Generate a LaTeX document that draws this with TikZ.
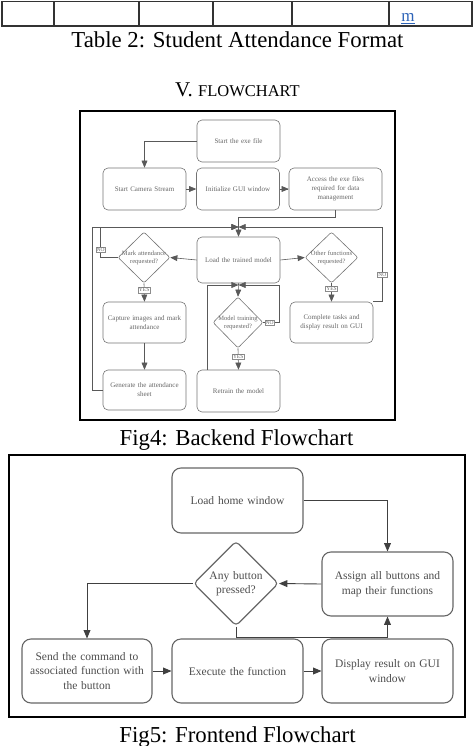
\documentclass[tikz,border=0pt]{standalone}
\usepackage{fontspec}
\setmainfont{Liberation Serif}
\usepackage{color}
\usepackage{tikz}
\usetikzlibrary{arrows}
\usetikzlibrary{shapes.geometric}

\begin{document}
\begin{tikzpicture}[x=1pt,y=-1pt,>=triangle 45,
    bbox/.style={draw=black!55, line width=0.6pt, rounded corners=5pt, minimum width=83pt, minimum height=42pt, text width=80pt, align=center, inner sep=1pt, text=black!60, font=\fontsize{7}{9}\selectfont},
    bdec/.style={diamond, draw=black!55, line width=0.6pt, rounded corners=2pt, aspect=1, inner sep=-7pt, minimum width=52pt, minimum height=51pt, text width=52pt, align=center, text=black!60, font=\fontsize{6.5}{8}\selectfont},
    blbl/.style={draw=black!45, fill=white, line width=0.4pt, inner sep=0.8pt, text=black!60, font=\fontsize{5.5}{6}\selectfont},
    bline/.style={draw=black!65, line width=0.6pt},
    fbox/.style={draw=black!60, line width=1.1pt, rounded corners=9pt, minimum width=131pt, minimum height=64pt, text width=122pt, align=center, inner sep=1pt, text=black!70, font=\fontsize{11.5}{14.5}\selectfont},
    fdec/.style={diamond, draw=black!60, line width=1.1pt, rounded corners=4pt, aspect=1, inner sep=0pt, minimum width=82pt, minimum height=80pt, text width=60pt, align=center, text=black!70, font=\fontsize{11.5}{14.5}\selectfont},
    fline/.style={draw=black!75, line width=0.9pt},
    capt/.style={anchor=base, font=\fontsize{22.8}{26}\selectfont}
  ]
    \definecolor{linkblue}{HTML}{2E64B8}
    \useasboundingbox (0,0) rectangle (474,746);
    % Tabellenrest oben
    \draw[line width=1.4pt, black!80] (1,1.5) -- (473,1.5) (1,26) -- (473,26);
    \foreach \x in {2,54,139,213,292,389,472}
    {
      \draw[line width=1.4pt, black!80] (\x,1.5) -- (\x,26);
    }
    \node[anchor=base, text=linkblue, font=\fontsize{17}{20}\selectfont] (lnk) at (408,22) {\underline{m}};
    \node[capt] (tabcap) at (237.5,48) {Table 2: Student Attendance Format};
    \node[anchor=base, font=\fontsize{21}{24}\selectfont] (sect) at (237.5,97) {V. {\fontsize{16.5}{18}\selectfont FLOWCHART}};

    % Backend
    \draw[line width=2pt] (80,111) rectangle (395,420);  %Rahmen
    \node[bbox] (start) at (238.5,141) {Start the exe file};
    \node[bbox] (cam) at (144.5,189) {Start Camera Stream};
    \node[bbox] (gui) at (238,189) {Initialize GUI window};
    \node[bbox, minimum width=93pt] (access) at (335.5,189) {Access the exe files\\ required for data\\ management};
    \node[bbox, minimum height=46pt] (load) at (238.5,260) {Load the trained model};
    \node[bdec] (mark) at (144,257.5) {Mark attendance\\ requested?};
    \node[bdec, minimum width=53pt] (other) at (331.5,257.5) {Other functions\\ requested?};
    \node[bdec, minimum width=50pt] (train) at (238,322.5) {Model training\\ requested?};
    \node[bbox, minimum height=41pt] (capture) at (144.5,322.5) {Capture images and mark\\ attendance};
    \node[bbox, minimum height=41pt] (complete) at (331.5,322.5) {Complete tasks and\\ display result on GUI};
    \node[bbox, minimum height=40pt] (generate) at (144.5,390) {Generate the attendance\\ sheet};
    \node[bbox] (retrain) at (238.5,391) {Retrain the model};
    \coordinate (jtop) at (238.5,227);  %Treffpunkt oben
    \coordinate (jmid) at (238.5,285);  %Treffpunkt unten

    \draw[bline,->] (start.west) -| (cam.north);
    \draw[bline,->] (cam.east) -- (gui.west);
    \draw[bline,->] (gui.east) -- (access.west);
    \draw[bline,->] (access.south) -- ++(0,7) -| (load.north);
    \draw[bline,->] (generate.west) -- ++(-10,0) |- (jtop);
    \draw[bline,->] (mark.west) -- ++(-17,0) |- (jtop) node[blbl, pos=0.13] {NO};
    \draw[bline,->] (complete.north east) -- ++(9,0) |- (jtop) node[blbl, pos=0.18] {NO};
    \draw[bline,->] (load.west) -- (mark.east);
    \draw[bline,->] (load.east) -- (other.west);
    \draw[bline,->] (mark.south) -- (capture.north) node[blbl, pos=0.37] {YES};
    \draw[bline,->] (other.south) -- (complete.north) node[blbl, pos=0.28] {YES};
    \draw[bline,->] (capture.south) -- (generate.north);
    \draw[bline,->] (load.south) -- (train.north);
    \draw[bline,->] ([xshift=-31.5pt]retrain.north) |- (jmid);
    \draw[bline,->] (train.east) -- ++(16,0) node[blbl, pos=0.4] {NO} |- (jmid);
    \draw[bline,->] (train.south) -- (retrain.north) node[blbl, pos=0.4] {YES};
    \node[capt] (fig4) at (236.5,445) {Fig4: Backend Flowchart};

    % Frontend
    \draw[line width=1.6pt] (9,455) rectangle (465,717);  %Rahmen
    \node[fbox, minimum height=65pt] (home) at (237.5,500.5) {Load home window};
    \node[fbox] (assign) at (387.5,584) {Assign all buttons and\\ map their functions};
    \node[fdec] (anybtn) at (236,583.5) {Any button\\ pressed?};
    \node[fbox, minimum width=130pt] (send) at (87,671) {Send the command to\\ associated function with\\ the button};
    \node[fbox] (exec) at (237.5,671) {Execute the function};
    \node[fbox] (disp) at (387.5,671) {Display result on GUI\\ window};

    \draw[fline,->] (home.east) -| (assign.north);
    \draw[fline,->] (assign.west) -- (anybtn.east);
    \draw[fline,->] (anybtn.west) -| (send.north);
    \draw[fline,->] (anybtn.south) -- ++(0,11) -| (assign.south);
    \draw[fline,->] (send.east) -- (exec.west);
    \draw[fline,->] (exec.east) -- (disp.west);
    \node[capt] (fig5) at (237.5,742) {Fig5: Frontend Flowchart};
  \end{tikzpicture}
\end{document}
